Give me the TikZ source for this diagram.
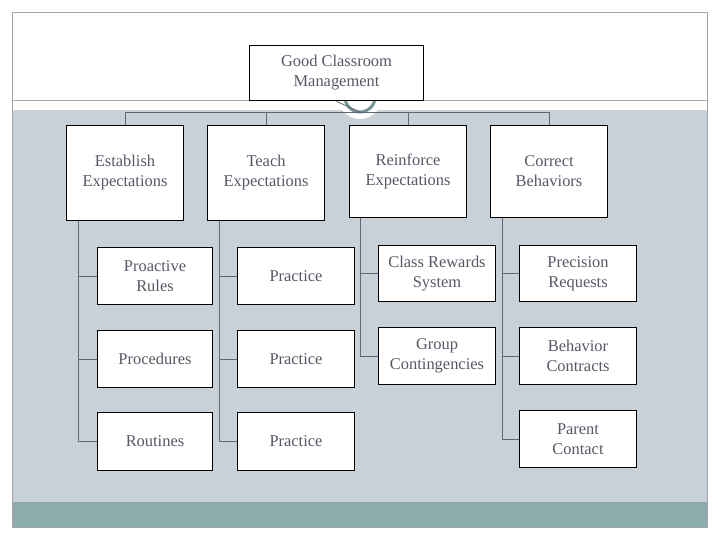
\documentclass[tikz,border=0pt]{standalone}
\usepackage{tikz}
\usepackage{fontspec}
\setmainfont{Liberation Serif}
\definecolor{slidegrey}{RGB}{199,209,215}
\definecolor{slideteal}{RGB}{138,173,172}
\definecolor{textgrey}{RGB}{85,89,102}
\definecolor{linegrey}{RGB}{95,105,115}
\tikzset{
    box/.style={draw=black, fill=white, line width=0.9pt, align=center,
        text=textgrey, font=\fontsize{16.5}{20}\selectfont, inner sep=0pt},
    link/.style={draw=linegrey, line width=0.8pt}
}
\newcommand{\boxat}[6]{% name, x1, y1, x2, y2, text
    \node[box, minimum width={#4-#2}, minimum height={#5-#3}]
        (#1) at ({(#2+#4)/2}, {(#3+#5)/2}) {#6};}

\begin{document}
\begin{tikzpicture}[x=1bp, y=-1bp]
    \useasboundingbox (0, 0) rectangle (720, 540);
    % Background
    \fill[white] (0, 0) rectangle (720, 540);
    \fill[slidegrey] (12, 110) rectangle (707, 502);
    \fill[slideteal] (12, 502) rectangle (707, 527);
    \draw[gray!70, line width=0.6pt] (12, 12) rectangle (707, 527);
    \draw[gray!70, line width=0.6pt] (12, 100) -- (707, 100);
    \fill[white] (360, 97) circle (22);
    \draw[slideteal!85!black, line width=3pt] (360, 97) circle (15);
    % Boxes
    \boxat{top}{249}{45}{424}{101}{Good Classroom\\Management}
    \boxat{est}{66}{125}{184}{221}{Establish\\Expectations}
    \boxat{tea}{207}{125}{325}{221}{Teach\\Expectations}
    \boxat{rei}{349}{125}{467}{218}{Reinforce\\Expectations}
    \boxat{cor}{490}{125}{608}{218}{Correct\\Behaviors}
    \boxat{pro}{97}{247}{213}{305}{Proactive\\Rules}
    \boxat{prc}{97}{330}{213}{388}{Procedures}
    \boxat{rou}{97}{412}{213}{471}{Routines}
    \boxat{pa}{237}{247}{355}{305}{Practice}
    \boxat{pb}{237}{330}{355}{388}{Practice}
    \boxat{pc}{237}{412}{355}{471}{Practice}
    \boxat{cls}{378}{245}{496}{302}{Class Rewards\\System}
    \boxat{grp}{378}{327}{496}{385}{Group\\Contingencies}
    \boxat{pre}{519}{245}{637}{302}{Precision\\Requests}
    \boxat{beh}{519}{327}{637}{385}{Behavior\\Contracts}
    \boxat{par}{519}{410}{637}{468}{Parent\\Contact}
    % Connectors
    \coordinate (bus) at (360, 112);
    \draw[link] (top.south) -- (bus);
    \draw[link] (est.north |- bus) -- (cor.north |- bus);
    \foreach \n in {est, tea, rei, cor}
        \draw[link] (\n.north |- bus) -- (\n.north);
    \foreach \p/\x/\kids in {est/78/{pro,prc,rou}, tea/219/{pa,pb,pc},
                             rei/360/{cls,grp}, cor/502/{pre,beh,par}} {
        \foreach \k in \kids
            \draw[link] (\x, 0 |- \p.south) -- (\x, 0 |- \k.west) -- (\k.west);
    }
\end{tikzpicture}
\end{document}
